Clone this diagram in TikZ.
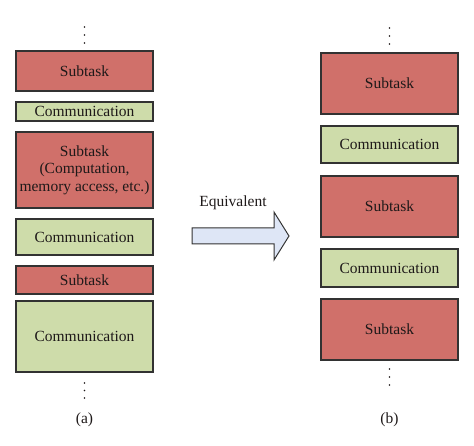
\documentclass[tikz,border=0pt]{standalone}
\usepackage{fontspec}
\setmainfont{Liberation Serif}
\definecolor{subred}{RGB}{208,112,106}
\definecolor{comgreen}{RGB}{206,220,170}
\definecolor{arrblue}{RGB}{222,230,246}
\definecolor{edge}{RGB}{50,50,50}
\definecolor{txt}{RGB}{30,25,25}
\begin{document}
\begin{tikzpicture}[x=1pt,y=-1pt,
  base/.style={draw=edge,line width=1.1pt,minimum width=137pt,inner sep=0pt,text=txt,font=\fontsize{15.5}{17.5}\selectfont,align=center},
  subbox/.style={base,fill=subred},
  combox/.style={base,fill=comgreen},
  dot/.style={circle,fill=txt,inner sep=0pt,minimum size=1.8pt},
  lbl/.style={text=txt,font=\fontsize{15.5}{17.5}\selectfont}]
\useasboundingbox (0,0) rectangle (474,446);
% left column
\node[dot] (la1) at (84.5,27) {};
\node[dot] (la2) at (84.5,35) {};
\node[dot] (la3) at (84.5,43) {};
\node[subbox,minimum height=40pt] (l1) at (84.5,71) {Subtask};
\node[combox,minimum height=19pt] (l2) at (84.5,111.5) {Communication};
\node[subbox,minimum height=76pt] (l3) at (84.5,170) {Subtask\\(Computation,\\memory access, etc.)};
\node[combox,minimum height=36pt] (l4) at (84.5,237) {Communication};
\node[subbox,minimum height=28pt] (l5) at (84.5,280) {Subtask};
\node[combox,minimum height=71pt] (l6) at (84.5,336.5) {Communication};
\node[dot] (lb1) at (84.5,383) {};
\node[dot] (lb2) at (84.5,390.5) {};
\node[dot] (lb3) at (84.5,398) {};
\node[lbl] (la) at (84.5,420) {(a)};
% right column
\node[dot] (ra1) at (389.5,28) {};
\node[dot] (ra2) at (389.5,36) {};
\node[dot] (ra3) at (389.5,44) {};
\node[subbox,minimum height=61pt] (r1) at (389.5,83.5) {Subtask};
\node[combox,minimum height=37pt] (r2) at (389.5,144.5) {Communication};
\node[subbox,minimum height=61pt] (r3) at (389.5,206.5) {Subtask};
\node[combox,minimum height=38pt] (r4) at (389.5,268) {Communication};
\node[subbox,minimum height=61pt] (r5) at (389.5,329.5) {Subtask};
\node[dot] (rb1) at (389.5,369) {};
\node[dot] (rb2) at (389.5,377) {};
\node[dot] (rb3) at (389.5,385) {};
\node[lbl] (rb) at (389.5,420) {(b)};
% arrow
\draw[draw=edge,line width=1pt,fill=arrblue,line join=miter]
  (192,228) -- (274,228) -- (274,212) -- (289,236) -- (274,260) -- (274,244) -- (192,244) -- cycle;
\node[lbl] (eq) at (233,203) {Equivalent};
\end{tikzpicture}
\end{document}
